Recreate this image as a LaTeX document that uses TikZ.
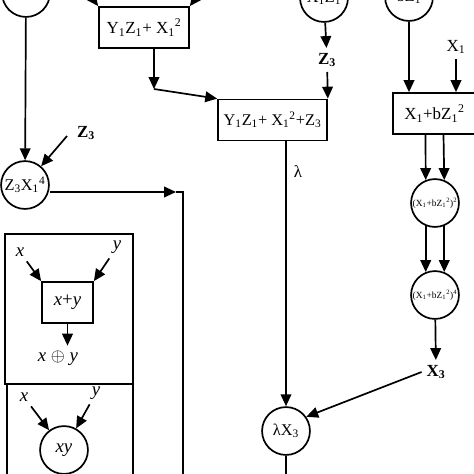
\documentclass[tikz,border=0pt]{standalone}
\usepackage{fontspec}
\setmainfont{Liberation Serif}
\usetikzlibrary{arrows.meta}

\begin{document}
\begin{tikzpicture}[x=0.028cm,y=-0.028cm,line width=1.35pt,>={Triangle[length=9.5pt,width=8.5pt]},
  box/.style={draw,rectangle,minimum height=1.15cm,inner sep=2pt,font=\fontsize{13.5}{15}\selectfont},
  op/.style={draw,circle,minimum size=\dia,inner sep=0pt,font=\fontsize{13}{15}\selectfont},
  lab/.style={font=\fontsize{13.5}{15}\selectfont},
  leg/.style={font=\fontsize{15}{17}\selectfont}]
\def\dia{1.34cm}  % circle size
\def\gap{9}       % offset of the double arrows
\clip (0,0) rectangle (474,474);

% top row
\node[op] (xq) at (26,-7) {X\textsubscript{1}\textsuperscript{4}};
\node[op] (xz) at (324,-2) {X\textsubscript{1}Z\textsubscript{1}};
\node[op] (bz) at (409,-3) {bZ\textsubscript{1}};
\node[box,minimum width=2.52cm] (yz) at (144,27.5) {Y\textsubscript{1}Z\textsubscript{1}+ X\textsubscript{1}\textsuperscript{2}};
\coordinate (in1) at (75,-25);
\coordinate (in2) at (213,-25);
\draw[->] (in1) -- (yz.north west);
\draw[->] (in2) -- (yz.north east);

% middle column
\coordinate (m1) at (154,89);
\node[lab] (z3b) at (327,60) {\textbf{Z\textsubscript{3}}};
\node[box,minimum width=3.05cm,font=\fontsize{13}{15}\selectfont] (yzz) at (272.5,120) {Y\textsubscript{1}Z\textsubscript{1}+ X\textsubscript{1}\textsuperscript{2}+Z\textsubscript{3}};
\node[lab] (lam) at (298,172) {λ};
\node[op] (lx) at (286,431) {λX\textsubscript{3}};
\draw[->] (yz.south -| m1) -- (m1);
\draw[->] (m1) -- (yzz.north west);
\draw[->] (xz) -- (z3b);
\draw[->] (z3b) -- (yzz.north east);
\draw[->] (yzz.south -| lx) -- (lx);
\draw (lx) -- (lx |- 0,480);

% right column
\node[lab] (x1) at (456,47) {X\textsubscript{1}};
\node[box,minimum width=2.32cm] (xb) at (434.5,113.5) {X\textsubscript{1}+bZ\textsubscript{1}\textsuperscript{2}};
\node[op,font=\fontsize{7.5}{8}\selectfont] (sq2) at (435,203) {(X\textsubscript{1}+bZ\textsubscript{1}\textsuperscript{2})\textsuperscript{2}};
\node[op,font=\fontsize{7.5}{8}\selectfont] (sq4) at (435,295) {(X\textsubscript{1}+bZ\textsubscript{1}\textsuperscript{2})\textsuperscript{4}};
\node[lab] (x3) at (436,372) {\textbf{X\textsubscript{3}}};
\draw[->] (bz) -- (bz |- xb.north);
\draw[->] (x1) -- (x1 |- xb.north);
\foreach \d/\a in {-\gap/112,\gap/68}{
  \draw[->] ([shift={(\d,0)}]xb.south) -- (sq2.\a);
  \draw[->] (sq2.-\a) -- (sq4.\a);
}
\draw[->] (sq4) -- (x3);
\draw[->] (x3.west) -- (lx.35);

% left column
\node[lab] (z3a) at (86,133) {\textbf{Z\textsubscript{3}}};
\node[op] (zx4) at (25,185) {Z\textsubscript{3}X\textsubscript{1}\textsuperscript{4}};
\coordinate (ah) at (176,192);
\coordinate (cr) at (183,192);
\draw[->] (xq) -- (zx4);
\draw[->] ([shift={(-5,3)}]z3a.west) -- (zx4);
\draw[->] (zx4.east |- cr) -- (ah);
\draw (ah) -- (cr) -- (183,480);

% legend
\draw (5,234) rectangle (133,384);
\draw (7,384) rectangle (133,490);
\node[leg] (lx1) at (20,252) {\textit{x}};
\node[leg] (ly1) at (117,247) {\textit{y}};
\node[box,leg,minimum width=1.43cm] (sum) at (67.5,302.5) {\textit{x}+\textit{y}};
\node[leg] (res) at (58,358) {\textit{x} $\oplus$ \textit{y}};
\draw[->] (lx1) -- (sum.north west);
\draw[->] (ly1) -- (sum.north east);
\draw[->] (sum) -- (sum |- res.north);
\node[leg] (lx2) at (24,397) {\textit{x}};
\node[leg] (ly2) at (96,393) {\textit{y}};
\node[op,leg] (prod) at (64,450) {\textit{xy}};
\draw[->] (lx2) -- (prod);
\draw[->] (ly2) -- (prod);
\draw (prod) -- (prod |- 0,480);
\end{tikzpicture}
\end{document}
